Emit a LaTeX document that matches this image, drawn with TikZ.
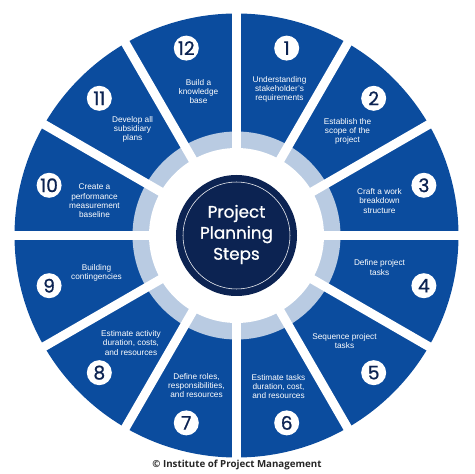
\documentclass[tikz,border=0pt]{standalone}
\usepackage{fontspec}
\setmainfont{Liberation Sans}
\newfontfamily\titlefont[FakeBold=0.8]{Poppins}
\newfontfamily\creditfont{Open Sans}
\usepackage{xcolor}
\usepackage{tikz}

\definecolor{stepblue}{HTML}{0B4C9E}
\definecolor{ringblue}{HTML}{B9CBE2}
\definecolor{hubnavy}{HTML}{0C2352}

\begin{document}
\begin{tikzpicture}[x=0.75pt,y=0.75pt,
    stepnum/.style={circle,fill=white,inner sep=0pt,minimum size=18.75pt,
        text=hubnavy,font=\titlefont\fontsize{14}{14}\selectfont},
    steptext/.style={text=white,align=center,inner sep=0pt,
        font=\fontsize{6.2}{7}\selectfont},
    hubtitle/.style={text=white,align=center,inner sep=0pt,
        font=\titlefont\fontsize{12.6}{15.75}\selectfont}]
    \def\outr{222}
    \def\cutr{230}
    \def\ringout{104}
    \def\ringin{87.5}
    \def\hubr{60.5}
    \def\numr{194}

    \useasboundingbox (-236.5,-238.5) rectangle (237.5,235.5);

    % wheel, ring and the white gaps
    \fill[stepblue] (0,0) circle[radius=\outr];
    \fill[ringblue] (0,0) circle[radius=\ringout];
    \foreach \ang in {0,30,...,330} {
        \draw[white,line width=6.75pt] (0,0) -- (\ang:\cutr);
    }
    \fill[white] (0,0) circle[radius=\ringin];

    % hub
    \fill[hubnavy] (0,0) circle[radius=\hubr];
    \draw[white,line width=0.4pt] (0,0) circle[radius=53.5];
    \node[hubtitle] (hub) at (0,1) {Project\\Planning\\Steps};

    \newcommand{\planstep}[4]{%
        \node[stepnum] (step#2) at (#1:\numr) {#2};
        \node[steptext] (task#2) at (#3) {#4};
    }
    \planstep{75}{1}{43,146}{Understanding\\stakeholder’s\\requirements}
    \planstep{45}{2}{111,104}{Establish the\\scope of the\\project}
    \planstep{15}{3}{143,34.5}{Craft a work\\breakdown\\structure}
    \planstep{-15}{4}{143,-32}{Define project\\tasks}
    \planstep{-45}{5}{108,-105.5}{Sequence project\\tasks}
    \planstep{-75}{6}{42,-151}{Estimate tasks\\duration, cost,\\and resources}
    \planstep{-105}{7}{-40,-150}{Define roles,\\responsibilities,\\and resources}
    \planstep{-135}{8}{-105.5,-107.5}{Estimate activity\\duration, costs,\\and resources}
    \planstep{-165}{9}{-140,-37.5}{Building\\contingencies}
    \planstep{165}{10}{-142,34.5}{Create a\\performance\\measurement\\baseline}
    \planstep{135}{11}{-104,106}{Develop all\\subsidiary\\plans}
    \planstep{105}{12}{-38,144}{Build a\\knowledge\\base}

    \node[font=\creditfont\bfseries\fontsize{7.3}{8}\selectfont,
        text=black!85,inner sep=0pt] (credit) at (0.5,-229.5)
        {© Institute of Project Management};
\end{tikzpicture}
\end{document}
